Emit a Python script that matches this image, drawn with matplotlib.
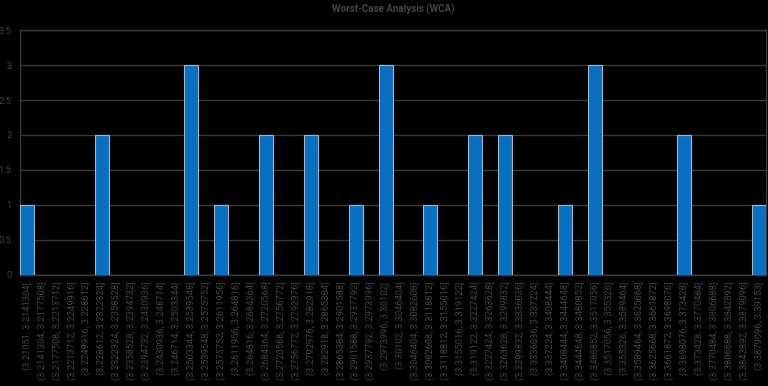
import matplotlib
matplotlib.use("Agg")
import matplotlib.pyplot as plt

# Histogram bin labels and counts
bins = [
    "(3.21051, 3.2141304]", "(3.2141304, 3.2177508]", "(3.2177508, 3.2213712]",
    "(3.2213712, 3.2249916]", "(3.2249916, 3.228612]", "(3.228612, 3.2322324]",
    "(3.2322324, 3.2358528]", "(3.2358528, 3.2394732]", "(3.2394732, 3.2430936]",
    "(3.2430936, 3.246714]", "(3.246714, 3.2503344]", "(3.2503344, 3.2539548]",
    "(3.2539548, 3.2575752]", "(3.2575752, 3.2611956]", "(3.2611956, 3.264816]",
    "(3.264816, 3.2684364]", "(3.2684364, 3.2720568]", "(3.2720568, 3.2756772]",
    "(3.2756772, 3.2792976]", "(3.2792976, 3.282918]", "(3.282918, 3.2865384]",
    "(3.2865384, 3.2901588]", "(3.2901588, 3.2937792]", "(3.2937792, 3.2973996]",
    "(3.2973996, 3.30102]", "(3.30102, 3.3046404]", "(3.3046404, 3.3082608]",
    "(3.3082608, 3.3118812]", "(3.3118812, 3.3155016]", "(3.3155016, 3.319122]",
    "(3.319122, 3.3227424]", "(3.3227424, 3.3263628]", "(3.3263628, 3.3299832]",
    "(3.3299832, 3.3336036]", "(3.3336036, 3.337224]", "(3.337224, 3.3408444]",
    "(3.3408444, 3.3444648]", "(3.3444648, 3.3480852]", "(3.3480852, 3.3517056]",
    "(3.3517056, 3.355326]", "(3.355326, 3.3589464]", "(3.3589464, 3.3625668]",
    "(3.3625668, 3.3661872]", "(3.3661872, 3.3698076]", "(3.3698076, 3.373428]",
    "(3.373428, 3.3770484]", "(3.3770484, 3.3806688]", "(3.3806688, 3.3842892]",
    "(3.3842892, 3.3879096]", "(3.3879096, 3.39153]",
]
counts = [
    1, 0, 0, 0, 0, 2, 0, 0, 0, 0,
    0, 3, 0, 1, 0, 0, 2, 0, 0, 2,
    0, 0, 1, 0, 3, 0, 0, 1, 0, 0,
    2, 0, 2, 0, 0, 0, 1, 0, 3, 0,
    0, 0, 0, 0, 2, 0, 0, 0, 0, 1,
]
yticks = [0, 0.5, 1, 1.5, 2, 2.5, 3, 3.5]
ytick_labels = ["0", "0.5", "1", "1.5", "2", "2.5", "3", "3.5"]

text_col = "#454545"
grid_col = "#3a3a3a"

plt.rcParams['font.family'] = ['Roboto', 'DejaVu Sans']

fig = plt.figure(figsize=(7.68, 3.86), dpi=100, facecolor="black")
ax = fig.add_axes([0.026, 0.288, 0.9715, 0.634], facecolor="black")

w = 0.93
x = list(range(len(bins)))
ax.bar(x, counts, width=w, color="#0b6fc0", edgecolor="#9fb6cc", linewidth=0.8, zorder=3)

ax.set_xlim(-w / 2, len(bins) - 1 + w / 2)
ax.set_ylim(0, 3.5)
ax.set_yticks(yticks)
ax.set_yticklabels(ytick_labels)
ax.set_xticks(x)
ax.set_xticklabels(bins, rotation=90)
ax.tick_params(axis="both", length=0, colors=text_col, labelsize=6.7)
ax.tick_params(axis="y", pad=6)
ax.tick_params(axis="x", pad=5)
ax.grid(axis="y", color=grid_col, linewidth=1, zorder=0)
for s in ax.spines.values():
    s.set_color(grid_col)
    s.set_linewidth(1)

ax.set_title("Worst-Case Analysis (WCA)", pad=13, fontsize=7, fontweight="bold", color=text_col)

fig.savefig("out.png", dpi=100, facecolor="black")
